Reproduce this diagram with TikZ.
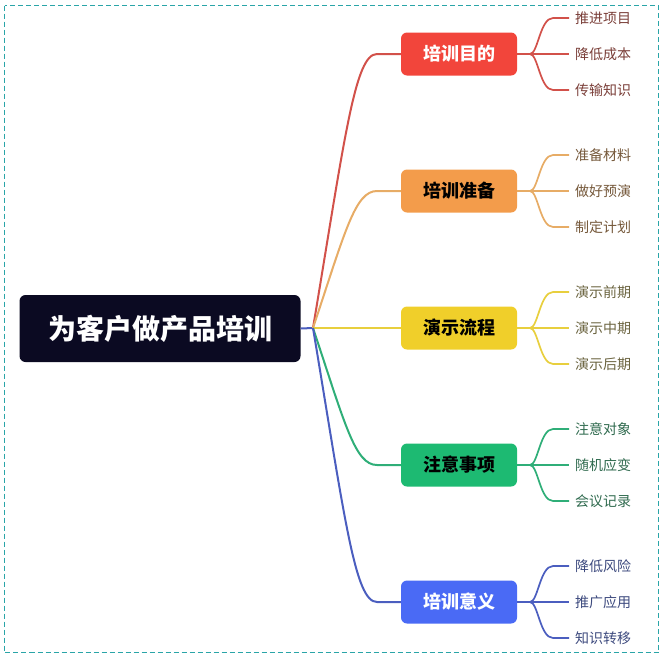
\documentclass[tikz,border=0pt]{standalone}
\usepackage{fontspec}
\setmainfont{Noto Sans CJK SC}
\definecolor{rootfill}{HTML}{0B0A22}
\definecolor{cRed}{HTML}{F2453B}
\definecolor{cOrange}{HTML}{F39C4B}
\definecolor{cYellow}{HTML}{F0CF2A}
\definecolor{cGreen}{HTML}{1DBA72}
\definecolor{cBlue}{HTML}{4A6AF5}
\definecolor{lRed}{HTML}{D2514A}
\definecolor{lOrange}{HTML}{E7AC66}
\definecolor{lYellow}{HTML}{E8CF3E}
\definecolor{lGreen}{HTML}{2FAE78}
\definecolor{lBlue}{HTML}{4B5EBF}
\definecolor{tRed}{HTML}{7A3E38}
\definecolor{tOrange}{HTML}{75583A}
\definecolor{tYellow}{HTML}{6B6440}
\definecolor{tGreen}{HTML}{2F6A4E}
\definecolor{tBlue}{HTML}{3D4A7E}
\definecolor{borderc}{HTML}{2AA5A8}
\tikzset{
  rootbox/.style={fill=rootfill, rounded corners=6pt, minimum width=281pt, minimum height=67pt,
    text=white, font=\fontsize{28}{32}\selectfont\bfseries, inner sep=0pt},
  branchbox/.style={rounded corners=6pt, minimum width=116pt, minimum height=43pt,
    font=\fontsize{18}{22}\selectfont\bfseries, inner sep=0pt},
  leaftext/.style={anchor=west, font=\fontsize{14}{17}\selectfont, inner sep=0pt},
  mainline/.style={line width=2pt},
  leafline/.style={line width=1.7pt},
  frame/.style={draw=borderc, line width=1.6pt, dash pattern=on 5pt off 3pt}
}
\begin{document}
\begin{tikzpicture}[x=1pt,y=-1pt]
\useasboundingbox (0,0) rectangle (661,656);
\draw[frame] (4.5,5.5) rectangle (658.5,652.5);

\node[rootbox] (root) at (160,328.5) {为客户做产品培训};
\coordinate (hub) at (313,328);
\draw[mainline, lBlue] (root.east) -- (hub);

% branch boxes
\node[branchbox, fill=cRed, text=white] (b1) at (459,54) {培训目的};
\node[branchbox, fill=cOrange, text=black] (b2) at (459,191) {培训准备};
\node[branchbox, fill=cYellow, text=black] (b3) at (459,328) {演示流程};
\node[branchbox, fill=cGreen, text=black] (b4) at (459,465) {注意事项};
\node[branchbox, fill=cBlue, text=white] (b5) at (459,602) {培训意义};

% main connectors
\coordinate (e1) at (377,54);
\coordinate (e2) at (377,191);
\coordinate (e4) at (377,465);
\coordinate (e5) at (377,602);
\draw[mainline, lRed] (hub) .. controls (345,136) and (355,54) .. (e1) -- (b1.west);
\draw[mainline, lOrange] (hub) .. controls (345,232) and (355,191) .. (e2) -- (b2.west);
\draw[mainline, lYellow] (hub) -- (b3.west);
\draw[mainline, lGreen] (hub) .. controls (345,424) and (355,465) .. (e4) -- (b4.west);
\draw[mainline, lBlue] (hub) .. controls (345,520) and (355,602) .. (e5) -- (b5.west);

% leaves
\foreach \b/\y/\lc/\tc/\ta/\tb/\tcc in {
  1/54/lRed/tRed/推进项目/降低成本/传输知识,
  2/191/lOrange/tOrange/准备材料/做好预演/制定计划,
  3/328/lYellow/tYellow/演示前期/演示中期/演示后期,
  4/465/lGreen/tGreen/注意对象/随机应变/会议记录,
  5/602/lBlue/tBlue/降低风险/推广应用/知识转移}{
  \coordinate (s\b) at (530,\y);
  \node[leaftext, text=\tc] (l\b a) at (575,\y-36) {\ta};
  \node[leaftext, text=\tc] (l\b b) at (575,\y) {\tb};
  \node[leaftext, text=\tc] (l\b c) at (575,\y+36) {\tcc};
  \draw[leafline, \lc] (b\b.east) -- (s\b);
  \draw[leafline, \lc] (s\b) .. controls (538,\y) and (540,\y-36) .. (553,\y-36) -- ([xshift=-6pt]l\b a.west);
  \draw[leafline, \lc] (s\b) -- ([xshift=-6pt]l\b b.west);
  \draw[leafline, \lc] (s\b) .. controls (538,\y) and (540,\y+36) .. (553,\y+36) -- ([xshift=-6pt]l\b c.west);
}
\end{tikzpicture}
\end{document}
